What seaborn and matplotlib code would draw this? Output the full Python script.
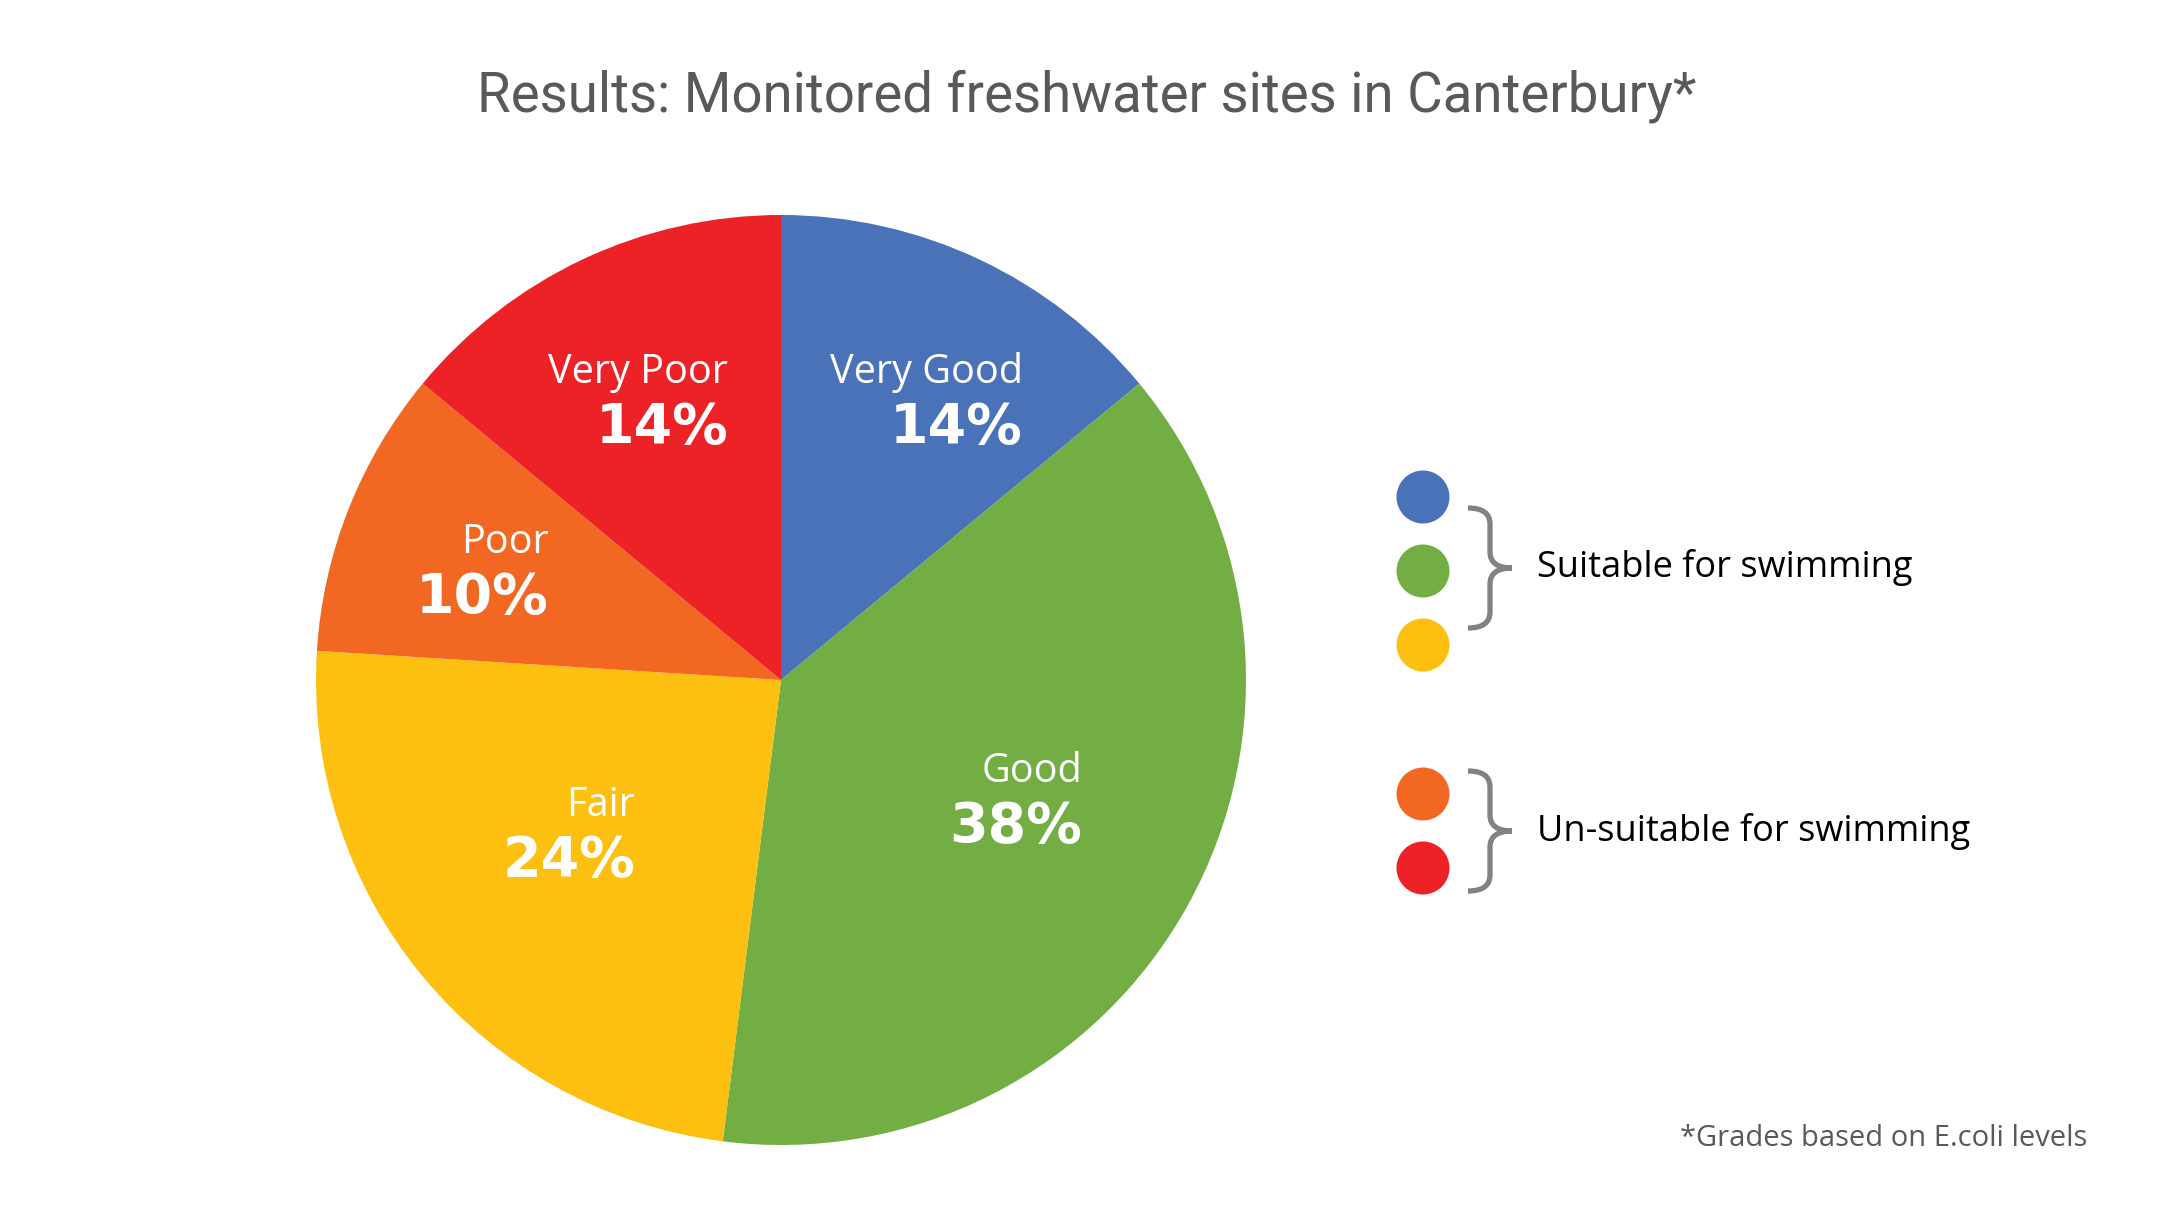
import matplotlib
matplotlib.use("Agg")
import matplotlib.pyplot as plt
from matplotlib import font_manager
from matplotlib.patches import Circle, PathPatch
from matplotlib.path import Path
import seaborn as sns

# ---------------- data ----------------
categories = ["Very Good", "Good", "Fair", "Poor", "Very Poor"]
shares = [14, 38, 24, 10, 14]
pct_labels = ["14%", "38%", "24%", "10%", "14%"]
colors = ["#4A72B8", "#72AE43", "#FDC010", "#F26722", "#EC2227"]
group_names = ["Suitable for swimming", "Un-suitable for swimming"]
group_members = [[0, 1, 2], [3, 4]]
title_text = "Results: Monitored freshwater sites in Canterbury*"
footnote_text = "*Grades based on E.coli levels"

# ---------------- style ----------------
sns.set_theme(style="white")


def pick(*names):
    for n in names:
        try:
            font_manager.findfont(font_manager.FontProperties(family=n), fallback_to_default=False)
            return n
        except Exception:
            continue
    return "DejaVu Sans"


title_font = pick("Roboto", "Open Sans")
text_font = pick("Open Sans", "Noto Sans", "DejaVu Sans")
bold_font = "DejaVu Sans"
plt.rcParams["font.family"] = [text_font, "DejaVu Sans"]

W, H = 2175, 1231
fig = plt.figure(figsize=(W / 100, H / 100), dpi=100)
fig.patch.set_facecolor("white")

# ---------------- pie ----------------
cx, cy, R = 781, 680, 465  # pixels (from top)
half = 520
ax = fig.add_axes([(cx - half) / W, (H - cy - half) / H, 2 * half / W, 2 * half / H])
ax.pie(shares, colors=colors, startangle=90, counterclock=False,
       wedgeprops=dict(linewidth=0))
ax.set_xlim(-half / R, half / R)
ax.set_ylim(-half / R, half / R)
ax.set_aspect("equal")
ax.axis("off")

# label anchors: right edge x offset, name baseline offset (pixels from centre, up positive)
label_pos = {
    "Very Good": (242, 297),
    "Good": (301, -102),
    "Fair": (-146, -136),
    "Poor": (-232, 127),
    "Very Poor": (-53, 297),
}
for cat, pct in zip(categories, pct_labels):
    dx, dy = label_pos[cat]
    ax.text(dx / R, dy / R, cat, ha="right", va="baseline", color="white",
            fontsize=28.5, family=[text_font, "DejaVu Sans"])
    ax.text(dx / R, (dy - 60) / R, pct, ha="right", va="baseline", color="white",
            fontsize=40, fontweight="bold", family=[bold_font])

# ---------------- overlay (title, legend, footnote) ----------------
ov = fig.add_axes([0, 0, 1, 1], zorder=5)
ov.set_xlim(0, W)
ov.set_ylim(H, 0)
ov.axis("off")
ov.patch.set_alpha(0)

ov.text(1087, 96, title_text, ha="center", va="center", color="#58595B",
        fontsize=39.3, family=[title_font, "DejaVu Sans"])
ov.text(2087, 1139, footnote_text, ha="right", va="center", color="#58595B",
        fontsize=21, family=[text_font, "DejaVu Sans"])

group_centers = [568, 831]
circle_centers = [571, 831]
step = 74
circ_x, circ_r = 1423, 26.5
xl, xv, xt, bh, br = 1468, 1490, 1512, 60, 16
for gname, members, gc, cc in zip(group_names, group_members, group_centers, circle_centers):
    n = len(members)
    for i, m in enumerate(members):
        yy = cc + (i - (n - 1) / 2) * step
        ov.add_patch(Circle((circ_x, yy), circ_r, color=colors[m], lw=0))
    y0, y1 = gc - bh, gc + bh
    verts = [(xl, y0), (xv, y0), (xv, y0 + br), (xv, gc - br), (xv, gc), (xt, gc),
             (xv, gc), (xv, gc + br), (xv, y1 - br), (xv, y1), (xl, y1)]
    codes = [Path.MOVETO, Path.CURVE3, Path.CURVE3, Path.LINETO, Path.CURVE3, Path.CURVE3,
             Path.CURVE3, Path.CURVE3, Path.LINETO, Path.CURVE3, Path.CURVE3]
    ov.add_patch(PathPatch(Path(verts, codes), facecolor="none", edgecolor="#808285",
                           lw=3.8, capstyle="butt", joinstyle="miter"))
    ov.text(1537, gc, gname, ha="left", va="center", color="black",
            fontsize=26, family=[text_font, "DejaVu Sans"])

fig.savefig("out.png", dpi=100, facecolor="white")
